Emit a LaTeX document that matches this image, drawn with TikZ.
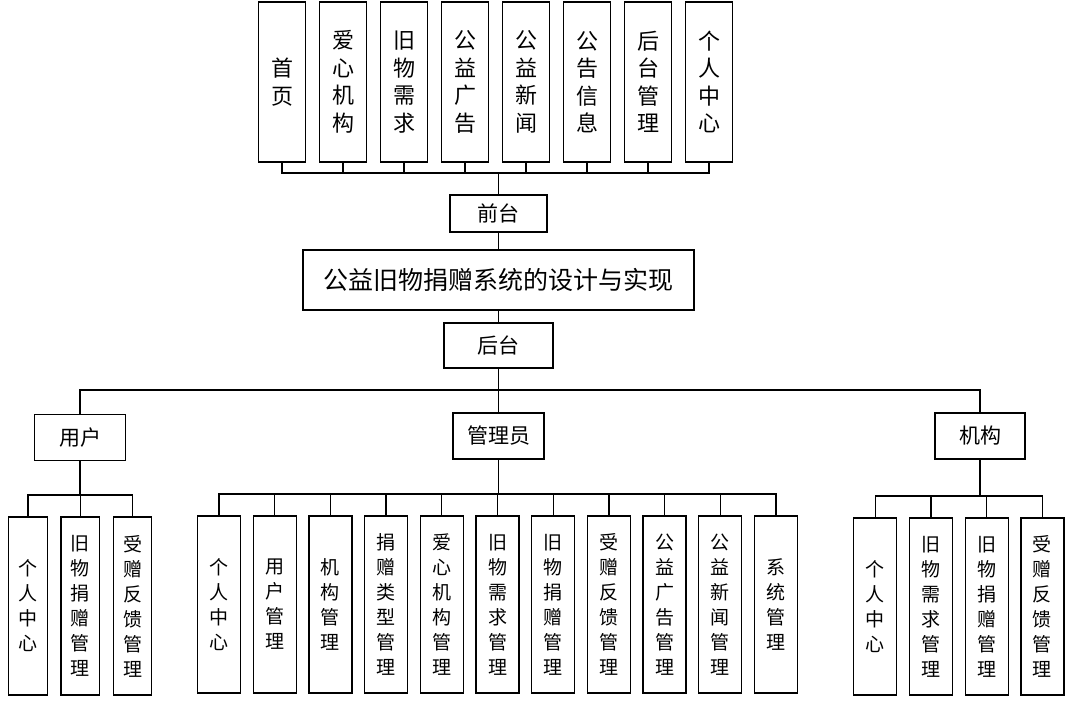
\documentclass[tikz,border=0pt]{standalone}
\usepackage{fontspec}
\setmainfont{Noto Sans CJK SC}
\begin{document}
\begin{tikzpicture}[x=1pt,y=-1pt,line width=1.3pt,
every node/.style={draw,inner sep=0pt,align=center},
topbox/.style={minimum width=47pt,minimum height=160pt,font=\fontsize{22}{27.5}\selectfont},
midbox/.style={minimum height=46pt,font=\fontsize{21}{25}\selectfont},
subbox/.style={minimum width=43pt,minimum height=177pt,font=\fontsize{19}{25}\selectfont}]
\fill[white] (0,0) rectangle (1082,707);
\useasboundingbox (0,0) rectangle (1082,707);

%front pages on top
\foreach \t [count=\i] in {首\\页,爱\\心\\机\\构,旧\\物\\需\\求,公\\益\\广\\告,公\\益\\新\\闻,公\\告\\信\\息,后\\台\\管\\理,个\\人\\中\\心}
	\node[topbox] (t\i) at ({282+61*(\i-1)},82) {\t};

\node[midbox,minimum width=97pt,minimum height=37pt] (qt) at (498.5,213.5) {前台};
\node[minimum width=391pt,minimum height=60pt,font=\fontsize{25}{30}\selectfont] (title) at (498.5,280) {公益旧物捐赠系统的设计与实现};
\node[midbox,minimum width=109pt,minimum height=45pt] (ht) at (498.5,345.5) {后台};

%the three roles
\node[midbox,minimum width=91pt] (user) at (80,437.5) {用户};
\node[midbox,minimum width=91pt] (admin) at (498.5,436) {管理员};
\node[midbox,minimum width=90pt] (org) at (980,436) {机构};

%children of each role
\foreach \t [count=\i] in {个\\人\\中\\心,旧\\物\\捐\\赠\\管\\理,受\\赠\\反\\馈\\管\\理}
	\node[subbox,minimum width=38.5pt,minimum height=178pt] (u\i) at ({28+52.25*(\i-1)},606) {\t};
\foreach \t [count=\i] in {个\\人\\中\\心,用\\户\\管\\理,机\\构\\管\\理,捐\\赠\\类\\型\\管\\理,爱\\心\\机\\构\\管\\理,旧\\物\\需\\求\\管\\理,旧\\物\\捐\\赠\\管\\理,受\\赠\\反\\馈\\管\\理,公\\益\\广\\告\\管\\理,公\\益\\新\\闻\\管\\理,系\\统\\管\\理}
	\node[subbox] (a\i) at ({219+55.7*(\i-1)},604.5) {\t};
\foreach \t [count=\i] in {个\\人\\中\\心,旧\\物\\需\\求\\管\\理,旧\\物\\捐\\赠\\管\\理,受\\赠\\反\\馈\\管\\理}
	\node[subbox] (o\i) at ({875.3+55.7*(\i-1)},606.5) {\t};

%bus lines
\coordinate (tbus) at (498.5,173);
\coordinate (hbus) at (498.5,390);
\coordinate (ubus) at (80,495);
\coordinate (abus) at (498.5,494);
\coordinate (obus) at (980,496);

\foreach \i in {1,...,8}
	\draw (t\i.south) |- (tbus);
\draw (tbus) -- (qt.north);
\draw (qt.south) -- (title.north);
\draw (title.south) -- (ht.north);
\draw (ht.south) -- (hbus) -- (admin.north);
\draw (user.north) |- (hbus) -| (org.north);

\draw (user.south) -- (ubus);
\foreach \i in {1,...,3}
	\draw (u\i.north) |- (ubus);
\draw (admin.south) -- (abus);
\foreach \i in {1,...,11}
	\draw (a\i.north) |- (abus);
\draw (org.south) -- (obus);
\foreach \i in {1,...,4}
	\draw (o\i.north) |- (obus);

\end{tikzpicture}
\end{document}
